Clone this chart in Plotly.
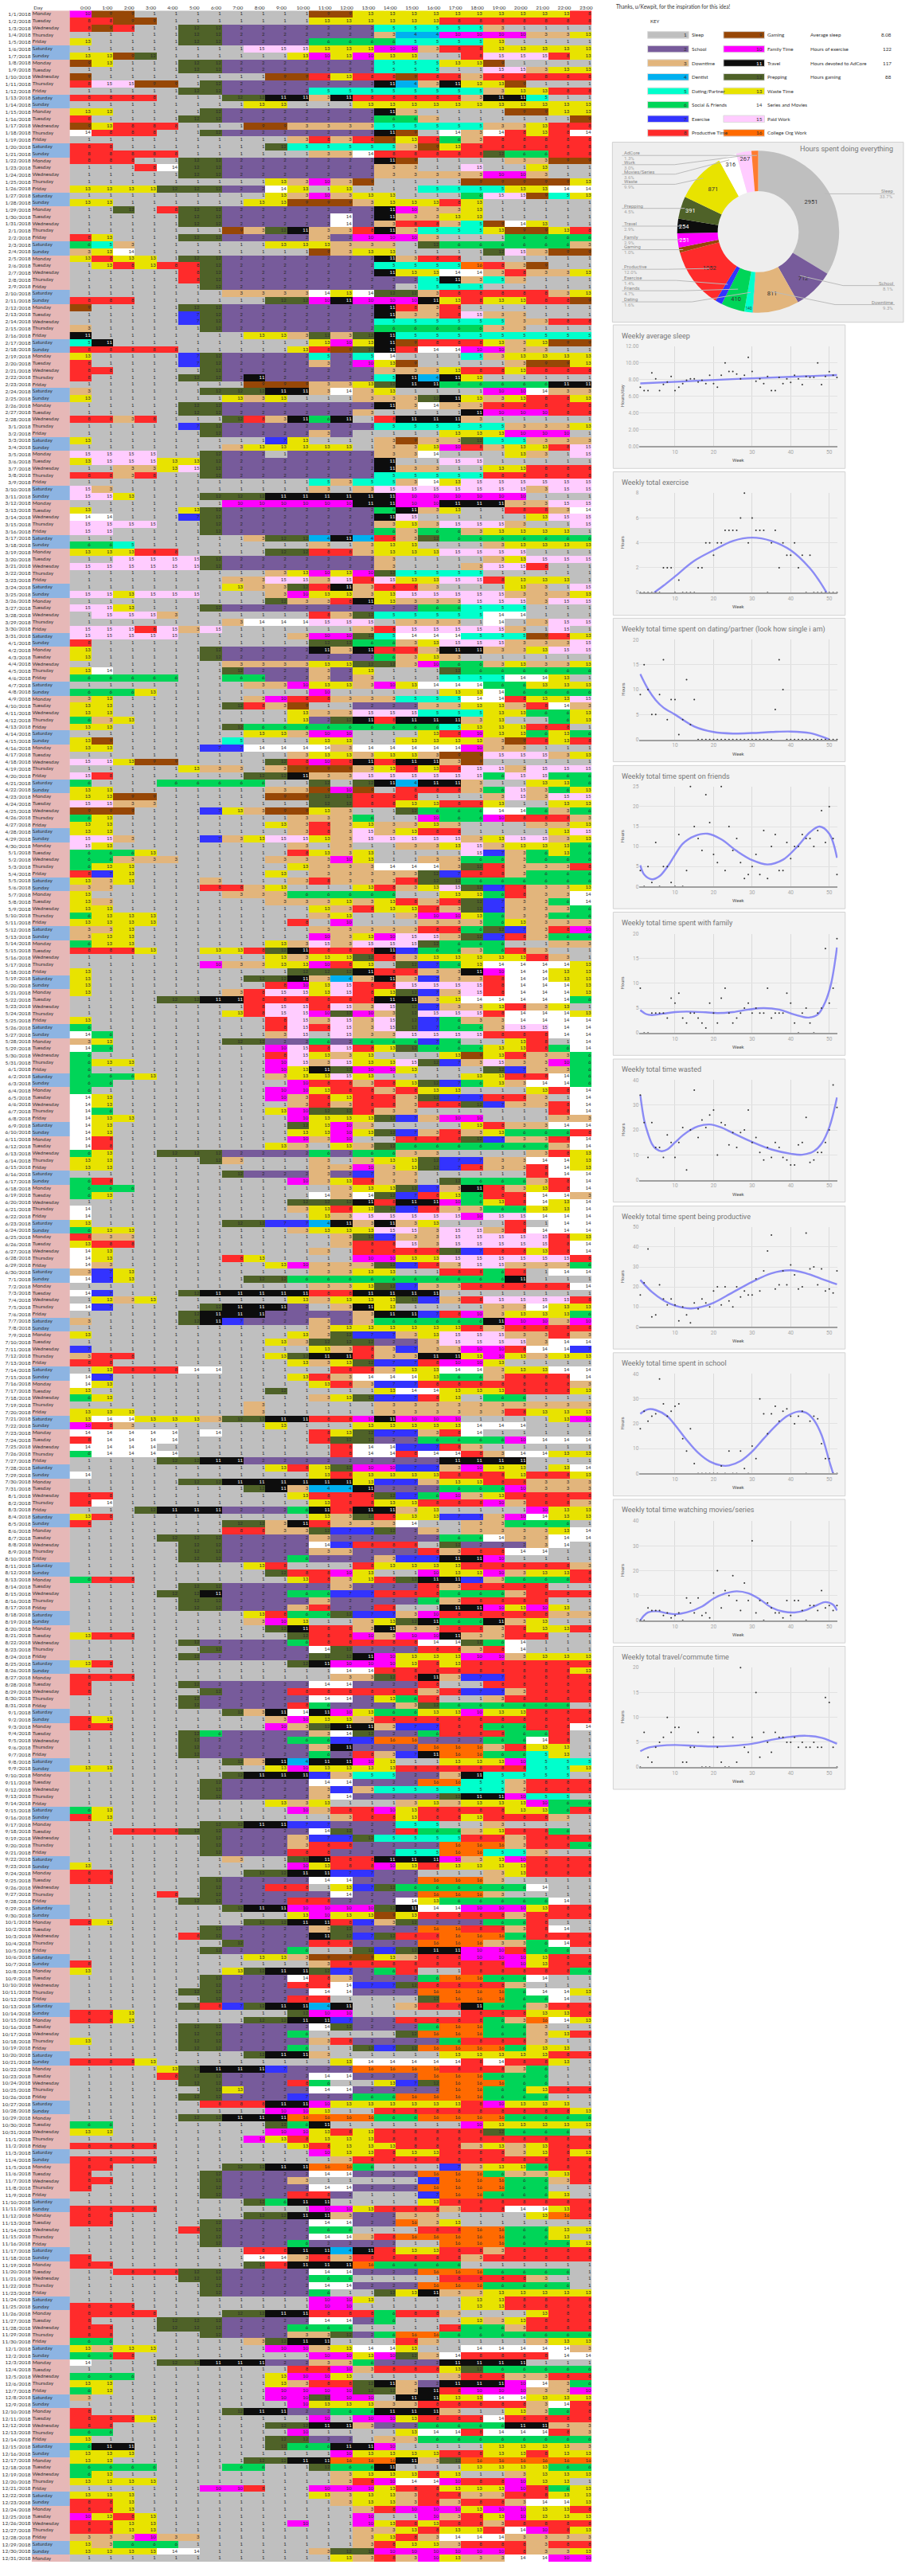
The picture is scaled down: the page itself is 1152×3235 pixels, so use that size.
import pandas as pd
import plotly.graph_objects as go

W, H = 1152, 3235
HOURS = [f"{h}:00" for h in range(24)]
DATES = pd.date_range("2018-01-01", "2018-12-31")
ACTIVITY_COLORS = ["#bfbfbf", "#775b9b", "#e2b57c", "#00b0f0", "#00ffcc", "#00d558", "#3333ff", "#ff2b2b",
                   "#974706", "#ff00ff", "#0d0d0d", "#4f6228", "#e8e300", "#ffffff", "#ffccff", "#ff6a00"]
# one character per hour: 1-9, a=10, b=11, c=12, d=13, e=14, f=15, g=16
DAY_ROWS = """a991111111199dddddddddd8
88991111111dddddd8888888
89811cc22222225555531111
11111cc2222222344aaaa33d
d1111cc222266665555d1111
11111111fffdddaa388ddddd
dd9c111111dadadd118fff8d
9d111cc2222222555dd91111
11111cc222222255511ff3dd
911111111998d88988388888
8ff991c2222222b43bdd9111
11111cc2222555555553dd88
8888111ccbb3b888883bb511
11111111dd111ddddddddddd
dd1111c2222222b3111199dd
81111cc22222226631111119
9d8881119933335555533d88
e88811c2222222b91e3e8d8e
111111111138389d86388888
881111111c5555539d888888
8888811111133e88888c6688
88811cc2222222b911113399
1118ecc22222223311f11d11
11111cc222222233333aa311
111111111d3a39111199999d
ddddccc22ed1d1115555ddee
111111111d3a3dd1116ff95d
dd111111dd9993ddd8d11111
11c18cc2222222ba33d11111
11111cc22222e2b33dd11111
11111cc22222e2388359ed11
111111193cb338b3555d99d8
8d111cc222232aaa31116666
653111111ddd3331c6666663
3de1111111193dd1111cf399
d8dd1cc2222222b388111111
1d8d88c22222225555g83911
111118c2222222bddee3833d
111118c2222222225b353111
111111c22222222155511111
11111113333edecc3888883d
888111111ccabaaabd8dd889
91111cc2222222b838111111
111117c2222222b338f33111
111117c22222225555553388
311111c22222226666633111
b1111111dd3c3cb555555555
5b111111111dadb9888d3d99
8888811111d89cb8eeaa3311
d11117c2222525e11153dddd
811117c222232ad91111399d
881111c2222222333d88d888
81111cc2b222225b4bd11111
1111111199933dcbb66666bb
311111cccbb3e3d1111aae33
d111111d3d111333cbd3d88d
11111cc2222222b3e3388888
11111cc22222231111baaa88
8838111c83b6b18bbb311111
111117c2222222555555333d
111111c2222321111dddaaa1
d111111117d1113933c55333
11111113ddddd133da83dd8f
ffff11c221222233e111d31f
dfffddc2222222b11ff11111
1133dfc2222222b3311dd888
883811c22222225555588888
1111111111153553edffffff
f3111111111313fffffff3ff
ffd111cccbbbbbbaaaaaa111
1111111aaaaaabbaabbb33ff
d1111dc22222226b3d11883e
ee1117c2222222bf11111dff
ffff11c22222223d3fff311f
ff1111c222222263663dddd1
111111113cc4b483c6666666
66511111111313dd1113dddd
ddd881111cc883dddffff111
11ffffc2222222311113dfff
ffffffc222222231113ff811
1111111113dadac555511111
111111133ff3f8fddff8ddd1
1111111d33c8b3883111d31f
ffdfff1113add3dfffff333d
111111111c338bd333fff3ff
ffd111c22222222266555111
1fff311111183c55555ee111
11111113eeefff13331e13ff
fff8f3f11111138fffff31f1
fffff111113aac5eee55598d
81111111111cc663dfff333f
d11111c2222b3b883bb33dff
d11111c222222263d3111111
11111113333ddcc3a663d33d
de11111c22232d111c666666
66666116622323111555eed1
1111111133add3adeee66ddd
666d1111111a11111dde6666
3d1111113a88333555ee8ddf
dd11111c8391122233dd38e3
dd11111111d33fff555dd66d
63d1111111d2cb8bbb3d116d
dd11111c6666666665ddd881
11111111dd3aa111d8add6d6
d9111115111dd11dddd398d8
dd111177eeee3eeeeea33111
11111111113dd3dd399fff3d
ffd991111c8a8b8bb3911111
11111d33139993d8d8ff3fff
f8111111ccb33ffffff6ff66
61116666611c1cb4bb311dd6
dd1111111339a9188836f36d
dd991111199cc8881113f3ff
ff331111111cc88dd88d11dd
9991117d399d311c666ee636
6d11111111333611a66a8883
dd1111111d383d33d311133d
dd11111111383f3d881111df
ff311173dffd3fffff3dff3d
fd111111113131133df3ddd6
666d1111118d3d1111f736d6
663331111333ad1133663666
6dd1111111d333eee3c83338
87d111111d133333c7883666
d3d1113111383338cc666666
331111883d111d83dfc7833d
d1111113336666611dd6833e
d31111111333d3d838c7336e
dd111111111d38dd83c73336
6ddd11111113d113aad63366
dddd11111181a1113336d333
33d1111111133333886c738a
3dd11111111a3daff3c78366
6dd111111d3f3fffc6661133
888d11dd8cb888b766368311
111111111d3ddc83ddddd831
111111a33dda8d1c76deeeed
d111111111cccb8833baeedd
d1111111ccb343b37338eedd
d111111118adf88ffff8eeed
d11111138ffdf8dc73f8eeed
1111ccbb888888bb3deeeee6
111111118ff8f3fc733d83d1
1111111d8ffaca3cfff8eeed
d111111118f3f3fc7633eeee
6111111118f8f3fc7663ffee
e611111113f1f33ffff888ee
3d11111cc22626667611d81e
e61111111af8f8dc666dd86e
6111111118fd3d111d9d8336
6dd111111af3fddfc73f33a6
611111111adbcaad111c7336
666d111113ddfd1111dd88e6
6611111111a8838dc76d3ee6
611111111aad8838dd111d8e
ed1111111a38d883c778831e
ed1111111138388388c7338e
e61111111dacc8331111118e
edd1111111adddc73aa11133
ed11111111cda31111d833ee
ed11111111ddadc7383d6668
e811111111a3a11888c7338e
e81111111d31d3c66666663e
6d11ccc2222626633111138d
dd1111c3111313ddc7733eed
dd11111111133a3dc78338ed
1111111c22232733111118ee
6811111111a3d8331c66638e
6661111111113ddc73b83d8e
6d111111111e3ec78d688ee3
1111111111cccb8bba6d8ede
e1111111113d8dc783366dde
e1111111111d3fffffaffeee
d111111cc774b3b3d11181ee
6dd11111113dddff3ff38eee
8331111111113c733fffff8d
d88111111111388f3fffff8e
ed111111111318888c788d8e
ed111118d1111aaddffffff8
e31111111da333c783ff3336
37d1111111133dd1188681ee
e7d11111cc6666666666b111
1111111111133dc73388888e
e7111cbbbbb88bbbb1111111
1d3d111111d3dddc738ffff8
e71111cbbb213bd111133edd
11111cbbb22223bb78a3ddd6
31111cb722232366666baa3a
111111111113dddddd838888
d111111111d3c773dfff3383
111111111d3ccc223ffff3ee
71111111111d383733aa8ee7
388111111dcbb833bbdad3dd
8811111111d3dc778aad1111
1d888ee11111883ddee3ddee
e711111111d83eeed663888e
ed111111111d837788888883
d11111111c1111deeddd888d
6d1111111113dc778d166111
111111113111113333333333
ddd111113111113333338ddd
deeddd3ccbb88abaaa1111da
a83111111d111dddddeee111
eeeee1e11118dc7738e11111
8eeee1111118cc226666aeee
eeee111111118ee778311111
6eeee11111118ee8ee83eedd
1111ccbb222222222bbbb111
111111111d8dcaa773add1de
e1111111111d8dddd888d88d
11111ccbbbbbbd773dd88333
11111111cb344b222666a333
8811111111d888c76a3d8888
8e111111111d88dd888a3883
111cbbb2226b8bb3d1111add
d8111111111d3c8dd773aedd
8111111cc3b8333e11336661
11111118833c77c2313333de
1111ccc222232222266e33ee
11111cc2222e78881c2223e1
11111cc2222332228388ee11
11111cc2226222377bba1111
11111111d81118dddd888883
111111111c88ad11adda3dd8
6881111111d83d8cbb736668
11111cc22222322283888811
1111ccb22266778886663888
11111cc22223222263888811
11111cc2223822811bbadad1
11111111d866c773a8888833
111111113ad113dcb66b3d11
111111111cb883b338838dd8
d881111111c88a3aab338811
11111c2222688888eec6e111
111111c2222ec2228838e111
11111c22222ccbadddaa3ddd
d811111111cbaaad8d888888
111111111111ee888888888d
88811111111133c8b3778888
81111c22222ee22281188888
811111c22288888838773888
11111c22222ee2d681138888
11111c2222862223c6666661
1111111c3bebad66ddadd888
8d11111113add38888888888
881111111a3cbb377886688e
11111c622223ec2268886681
11111c22226677gg22266e81
11111c222223b222ggg38dd1
11111c2222262837bgg665d1
1111111c3b4bbad11ddda555
dd1111111dadddd88888855d
1111111cbbb7355223b55551
111111c2222ee222gg553888
111111c22223735555553888
111111c22223e2222cbba551
111111111d3d1113d3ddda66
6d11111111a388ad8888dd68
8d1111111111388d88d88831
111111ccbb77222551131111
11888cc2222ec228663d8861
111111c222377c5555883888
111111c2223882222ggg3886
111111c2228822255gg55311
1111111311cb88bbba3da888
d111111111ad88ad8dddd888
88111111ccbb77221113d888
881111c2222ee222ggg31111
111111c22881d7c666666e11
111181c22222e222ggg31111
11111cc22288222ed66666e1
1111111cbbaaaacbeeaaad88
1111111111dadd9d88883888
8d111111ccbb873c22266811
111111c22223c222gg8838e1
111118c2222bc7c88ggg6888
1111111c22288222ggg336e8
111111c222611c7cbbaa8661
11111111dd3999d388aaad88
81111111111388888888ad88
d111111dcbbc726811888886
111111c222e832226gg66e11
111111c22288e77c88883111
11111cc2222ee222gggg6eed
111111c222881111cggg66e1
11111c87cbb4b11388b66388
88d1111111caa11111888dd8
88d11111ccbb722888863ged
11111cc2222ec2226gg66311
11111cc22261111cggg663d8
d1111cc22223822226888311
11111cc222611c7cgggg6dd1
11111111cbb311111ddddd88
888d11111111deeeee8e88d1
1111dcbbb7222gggg8883611
11118cc2222ee222ggg66611
11111cc2228611d7cggg6611
111111cd222ee2222gg66d88
11111cc22272266gggg66611
111111888bbadddddd8addd1
111111111aad11888888888d
11111ccbbbgggg66gggg6666
661111111c6b111111addddd
dd1111111aad8d88888c6661
11111111ad8ddd8888888888
8888111111d8ddd8883d3d88
11111111111add8dd8883d8d
888811111111388888888888
8811111ccbbgg611173dd688
811111c2222ee222ggg633d8
881111c2223111117ggg6638
811111c2222ee222gggg6611
111111c2228821117gg666d1
11111111c6bb1111d8888888
88881111111aad888388eed8
88111111ccbb322331111dg8
881111c2222ee22g3d111111
111118c22226611188gg66dd
111111c2222ee38ggggg66d1
111111c2226222211ggg666d
1111111188bb4b8dd8838888
81111111ee38388888388888
88111111c8bbbg6666111111
11888cc2222ee222ggg66661
11111cc22226611118888311
111111c2222ee222ggg66661
111111c2222611cdb33ddddd
11111111111aad1111dd8888
88811111111aa11111dd8888
8888111ccbb8886883111d88
8111ccc2222ee26111d3d888
8811ccc22266611118663888
881111c22233c26gg6666666
661111113cbb1118311113dd
d3dd11111aa3deed11eeeee3
66811111111aadac3e8888ee
e111ccbbb22336222bbbb111
111111111188a3888dc66666
666111111daad11113883388
dd1111111d388cb32bbbae36
6d1111111aaaacc3b8aaa33a
311111111aacaa1bbddeeddd
1111111111addd33888883e8
8111111cbb2266bbb311d368
888d1111111a1aad888e8888
881111111ccbb3226666bb33
6611111111a1111dee8eee83
d11111111cc2213366666666
6bb111111c66bba1111dddd3
ddd111111111adddd88dd8dd
dd111111ccbbgggb3cgggggg
66661116611c66b111dddd66
6d11111111113ddd8d113ddd
dddd1111111138aeea88add1
111111aa811aaad88ddda86d
ddd11111111d3dd3883388dd
88d1111111113dd383883eed
88d111111111138aaadaadd8
ad8d111111111a11a38daddd
88dd111111a11ad8d8838888
88dd11111111133d8dd8ea8d
333a3311111113d83eee3333
d36661111111138dd3888388
ddddee111113ccaaaaaa833d
111111111111d383ad33eeaa""".split("\n")

KEY_COL1 = [(1, "Sleep"), (2, "School"), (3, "Downtime"), (4, "Dentist"), (5, "Dating/Partner"),
            (6, "Social & Friends"), (7, "Exercise"), (8, "Productive Time")]
KEY_COL2 = [(9, "Gaming"), (10, "Family Time"), (11, "Travel"), (12, "Prepping"), (13, "Waste Time"),
            (14, "Series and Movies"), (15, "Paid Work"), (16, "College Org Work")]
STAT_LABELS = ["Average sleep", "Hours of exercise", "Hours devoted to AdCore", "Hours gaming"]
STAT_VALUES = ["8.08", "122", "117", "88"]

PIE_LABELS = ["Sleep", "School", "Downtime", "Dentist", "Dating", "Friends", "Exercise", "Productive",
              "Gaming", "Family", "Travel", "Prepping", "Waste", "Movies/Series", "Work", "AdCore"]
PIE_VALUES = [2951, 712, 811, 7, 140, 410, 122, 1052, 88, 251, 254, 391, 871, 316, 267, 117]
PIE_COLORS = ["#bfbfbf", "#775b9b", "#e2b57c", "#00b0f0", "#00ffcc", "#00d558", "#3333ff", "#ff2b2b",
              "#974706", "#ff00ff", "#0d0d0d", "#4f6228", "#e8e300", "#ffffff", "#ffccff", "#ff7b30"]

WEEKS = list(range(1, 53))
SLEEP = [7.1, 6.69, 6.69, 8.82, 8.09, 6.69, 7.42, 7.7, 8.38, 6.69, 7.1, 7.52, 7.93, 8.09, 8.09, 7.7, 7.93, 7.52, 8.53,
         7.52, 7.1, 8.53, 10.0, 8.98, 8.98, 8.66, 8.09, 8.53, 10.67, 8.98, 7.8, 8.09, 7.52, 8.38, 6.69, 6.69, 8.25,
         7.52, 8.09, 7.67, 8.53, 8.09, 7.4, 8.38, 8.28, 8.28, 10.0, 7.4, 8.38, 8.95, 8.53, 8.25]
EXERCISE = [0, 0, 0, 0, 0, 0, 2, 2, 2, 0, 1, 0, 0, 0, 0, 2, 2, 4, 4, 3, 4, 4, 5, 5, 5, 5, 6, 8, 4, 6, 5, 5, 5, 0, 4, 5,
            2, 4, 3, 3, 4, 2, 3, 0, 3, 0, 0, 0, 0, 0, 0, 0]
DATING = [9, 15, 10, 5, 5, 9, 16, 4, 8, 8, 1, 4, 12, 3, 8, 0, 0, 0, 0, 0, 0, 0, 0, 0, 0, 0, 0, 0, 0, 0, 0, 0, 0, 0, 0,
          6, 16, 10, 0, 0, 0, 0, 0, 0, 0, 0, 0, 0, 0, 0, 0, 0]
FRIENDS = [4, 0, 5, 1, 11, 0, 5, 5, 1, 0, 13, 0, 4, 25, 15, 12, 9, 23, 16, 8, 6, 25, 4, 15, 9, 12, 6, 2, 3, 5, 8, 3, 14,
           2, 10, 13, 4, 4, 11, 7, 10, 10, 13, 12, 12, 10, 14, 19, 11, 20, 12, 3]
FAMILY = [9, 0, 0, 4, 4, 4, 4, 3, 7, 6, 8, 3, 2, 4, 4, 3, 2, 1, 6, 4, 2, 7, 9, 4, 2, 3, 4, 5, 6, 4, 5, 4, 4, 9, 3, 4, 4,
          4, 8, 6, 2, 0, 4, 5, 2, 0, 4, 5, 17, 6, 9, 19]
WASTED = [34, 23, 9, 23, 13, 13, 9, 18, 15, 9, 15, 21, 4, 20, 36, 17, 24, 21, 26, 28, 10, 23, 22, 14, 19, 13, 19, 20, 28,
          15, 17, 11, 8, 13, 9, 15, 13, 9, 8, 6, 6, 14, 15, 25, 7, 8, 11, 11, 15, 20, 38, 29]
PRODUCTIVE = [16, 22, 39, 5, 6, 21, 14, 11, 14, 11, 3, 10, 6, 2, 12, 9, 14, 12, 10, 18, 20, 11, 20, 13, 10, 20, 15, 18,
              16, 16, 24, 18, 28, 38, 46, 19, 21, 28, 21, 31, 26, 19, 20, 47, 29, 30, 21, 29, 18, 19, 17, 28]
SCHOOL = [18, 25, 21, 23, 24, 38, 28, 23, 25, 27, 28, 14, 9, 18, 4, 0, 0, 0, 0, 0, 0, 3, 0, 9, 0, 0, 9, 2, 0, 11, 6, 30,
          24, 16, 24, 27, 21, 25, 26, 23, 20, 23, 25, 0, 21, 23, 22, 12, 6, 6, 0, 0]
MOVIES = [0, 0, 5, 4, 4, 4, 2, 3, 1, 2, 3, 0, 9, 7, 3, 9, 2, 3, 1, 11, 20, 5, 12, 10, 18, 8, 4, 15, 8, 32, 3, 8, 0, 7, 5,
          3, 3, 1, 8, 2, 8, 8, 4, 0, 6, 6, 4, 12, 5, 6, 4, 6]
TRAVEL = [0, 7, 2, 1, 4, 5, 6, 10, 7, 8, 8, 1, 1, 4, 4, 7, 0, 0, 0, 6, 4, 1, 0, 0, 6, 1, 20, 4, 3, 6, 15, 2, 7, 5, 3, 7,
          6, 6, 5, 5, 6, 4, 5, 4, 4, 5, 4, 4, 14, 13, 4, 0]

SLEEP_TREND = ([1, 26, 52], [7.55, 8.08, 8.55])
EXERCISE_TREND = ([4.6, 7, 10, 15, 20, 25, 30, 35, 40, 45, 47.5, 49.3],
                  [0, 0.55, 1.3, 2.55, 3.4, 4.15, 4.42, 4.15, 3.4, 1.95, 0.9, 0])
DATING_TREND = ([1, 3, 5, 7, 10, 15, 20, 25, 30, 35, 40, 45, 48, 50],
                [13.1, 10.1, 7.9, 6.4, 5, 2.6, 1.5, 1.2, 1.3, 1.5, 1.6, 1.3, 0.6, 0])
FRIENDS_TREND = ([1, 2, 4, 6, 8, 10, 12, 15, 18.5, 22, 26, 30, 34, 38, 42, 45, 47.5, 50, 52],
                 [5.3, 3, 1.8, 2.6, 4.9, 7.9, 10.7, 12.6, 13.2, 11.8, 8.9, 6.6, 5.5, 6.7, 10.3, 13.6, 15, 13.2, 7.2])
FAMILY_TREND = ([1, 2.5, 4, 7, 10, 13, 18, 21, 25, 29, 33, 37, 41, 44.5, 47, 49, 50.5, 52],
                [4.6, 3.8, 3.6, 3.9, 4.2, 4.3, 4.15, 4, 4.2, 4.7, 5, 4.7, 3.7, 3.1, 3.7, 6.3, 10, 17.2])
WASTED_TREND = ([1, 2, 3, 4, 5, 6.5, 8, 10, 12, 14, 16, 19, 22, 25, 30, 35, 40, 43, 46, 48, 50, 52],
                [34, 24, 18.5, 14.5, 12.5, 11.5, 12.2, 15, 17.8, 20, 21.5, 22.2, 21, 18.8, 15.2, 12.2, 10.5, 10.1,
                 11.5, 14.5, 21, 33])
PRODUCTIVE_TREND = ([1, 4, 7, 10, 14, 17, 20, 25, 30, 35, 40, 44, 48, 52],
                    [23.5, 17.5, 13.3, 10.6, 9.2, 10, 12, 17.3, 22.5, 26.8, 28.3, 26.8, 24, 21.3])
SCHOOL_TREND = ([1, 3, 5, 8, 10, 13, 16, 19, 22, 24, 27, 30, 33, 36, 39, 42, 44, 46, 48, 50, 51],
                [24, 25.8, 25.5, 23, 19.5, 13.5, 8.3, 4.8, 3.2, 3.2, 5, 8.8, 14, 19, 23, 24.9, 24.4, 21.5, 15.5, 5, 0])
MOVIES_TREND = ([1, 2, 3, 5, 8, 10, 13, 17, 20, 23, 26, 29, 32, 35, 38, 41, 44, 47, 49, 51, 52],
                [0, 2, 3.2, 3.7, 2.9, 2.5, 3.2, 5.6, 8.8, 10.8, 11.7, 10.9, 8.5, 5.2, 3.6, 3.2, 4.2, 6.3, 7.4, 6.3, 4])
TRAVEL_TREND = ([1, 3, 6, 10, 15, 20, 25, 30, 35, 40, 44, 48, 52],
                [3.2, 3.9, 4.3, 4.45, 4.3, 4.15, 4.3, 4.7, 5.5, 6.1, 6.3, 5.9, 4.7])


def px(x):
    return x / W


def py(y):
    return 1 - y / H


CHAR = {c: i + 1 for i, c in enumerate("123456789abcdefg")}
GRID_FONT = "Lato"
UI_FONT = "Roboto"
z = [[CHAR[c] for c in row] for row in DAY_ROWS]
ys = [i + 0.5 for i in range(365)]
xs = [h + 0.5 for h in range(24)]

GX0, GX1, CELL = 87.3, 744.0, 27.37
DAYW = 47.6 / CELL
steps = []
for i, c in enumerate(ACTIVITY_COLORS):
    steps += [[i / 16, c], [(i + 1) / 16, c]]

fig = go.Figure()
fig.add_trace(go.Heatmap(z=z, x=xs, y=ys, zmin=0.5, zmax=16.5, colorscale=steps, showscale=False, hoverinfo="skip"))
fig.add_trace(go.Heatmap(z=[[1 if d.dayofweek >= 5 else 0] for d in DATES], x0=-DAYW / 2, dx=DAYW, y=ys,
                         zmin=0, zmax=1, showscale=False, hoverinfo="skip",
                         colorscale=[[0, "#e6b8b7"], [0.5, "#e6b8b7"], [0.5, "#8db4e2"], [1, "#8db4e2"]]))
tx, ty, tt, tc = [], [], [], []
for i, row in enumerate(z):
    for h, v in enumerate(row):
        tx.append(h + 0.97)
        ty.append(i + 0.5)
        tt.append(str(v))
        tc.append("#ffffff" if v == 11 else "#2a2a2a")
fig.add_trace(go.Scatter(x=tx, y=ty, text=tt, mode="text", textposition="middle left", hoverinfo="skip",
                         textfont=dict(family=GRID_FONT, size=6, color=tc)))
fig.add_trace(go.Scatter(x=[-DAYW + 0.04] * 365, y=ys, text=[d.day_name() for d in DATES], mode="text",
                         textposition="middle right", hoverinfo="skip",
                         textfont=dict(family=GRID_FONT, size=6.5, color="#333333")))

layout = dict(
    width=W, height=H, margin=dict(l=0, r=0, t=0, b=0), autosize=False, showlegend=False,
    paper_bgcolor="#ffffff", plot_bgcolor="rgba(0,0,0,0)", font=dict(family=GRID_FONT),
    xaxis=dict(domain=[px(GX0 - 47.6), px(GX1)], range=[-DAYW, 24], side="top", showgrid=False, zeroline=False,
               tickmode="array", tickvals=[-DAYW + 0.3] + [h + 0.74 for h in range(24)], ticktext=["Day"] + HOURS,
               ticklen=0, tickfont=dict(family=GRID_FONT, size=6.5, color="#333333"), ticklabelstandoff=-1),
    yaxis=dict(domain=[py(9.3 + 365 * 8.8), py(9.3)], range=[365, 0], showgrid=False, zeroline=False,
               tickmode="array", tickvals=ys, ticktext=[f"{d.month}/{d.day}/2018" for d in DATES], ticklen=0,
               tickfont=dict(family=GRID_FONT, size=6.5, color="#333333")),
)

shapes, anns = [], []


def note(x, y, text, size=6.5, color="#333333", anchor="left", family=GRID_FONT, angle=0):
    anns.append(dict(x=px(x), y=py(y), xref="paper", yref="paper", text=text, showarrow=False, xanchor=anchor,
                     yanchor="middle", textangle=angle, font=dict(family=family, size=size, color=color)))


def rect(x0, y0, x1, y1, fill, line, layer="below", width=1):
    shapes.append(dict(type="rect", xref="paper", yref="paper", x0=px(x0), x1=px(x1), y0=py(y0), y1=py(y1),
                       fillcolor=fill, line=dict(color=line, width=width), layer=layer))


note(772.3, 5, "Thanks, u/Kewpit, for the inspiration for this idea!", size=6.6)
note(816, 22.7, "KEY", size=6)
KEY_Y = [40, 57.7, 75.3, 93, 110.7, 128, 145.7, 163.3]
for items, sx0, sx1 in ((KEY_COL1, 814.3, 866), (KEY_COL2, 909.7, 961.3)):
    for (num, label), y in zip(items, KEY_Y):
        if num != 14:
            rect(sx0, y - 4.3, sx1, y + 4.3, ACTIVITY_COLORS[num - 1], "#dddddd")
        note(sx1 - 0.5, y, str(num), anchor="right", color="#ffffff" if num == 11 else "#333333", size=6.3)
        note(sx1 + 1.3, y, label, size=6.3)
for lab, val, y in zip(STAT_LABELS, STAT_VALUES, KEY_Y):
    note(1017, y, lab, size=6.3)
    note(1123, y, val, size=6.3, anchor="right")

# pie panel
rect(770, 175, 1136, 401.7, "#eeeeee", "#cfcfcf")
PCX, PCY, PR = 953.3, 287.7, 102.0
fig.add_trace(go.Pie(labels=PIE_LABELS, values=PIE_VALUES, sort=False, direction="clockwise", rotation=0, hole=0.5,
                     marker=dict(colors=PIE_COLORS, line=dict(width=0)),
                     text=[str(v) if v > 125 else "" for v in PIE_VALUES], textinfo="text", textposition="inside",
                     insidetextorientation="horizontal", hoverinfo="skip",
                     insidetextfont=dict(family=UI_FONT, size=7.5,
                                         color=["#333333" if c not in ("#4f6228", "#0d0d0d", "#ff00ff") else "#ffffff"
                                                for c in PIE_COLORS]),
                     domain=dict(x=[px(PCX - PR), px(PCX + PR)], y=[py(PCY + PR), py(PCY - PR)])))
note(1124.7, 183.7, "Hours spent doing everything", size=9, color="#777777", anchor="right", family=UI_FONT)
PIE_NOTES = [("AdCore", "1.3%", 187.7, [(782, 191.7), (951.7, 191.7)]),
             ("Work", "3.0%", 200, [(782, 203.3), (848, 203.3), (936.7, 191.7)]),
             ("Movies/Series", "3.6%", 212, [(782, 215.3), (849, 215.3), (917, 197.3)]),
             ("Waste", "9.9%", 224.3, [(782, 228), (849, 228), (884, 220.3)]),
             ("Prepping", "4.5%", 255.3, [(782, 258.3), (861, 258.3)]),
             ("Travel", "2.9%", 277, [(782, 280.7), (856.7, 280.7)]),
             ("Family", "2.9%", 294.3, [(782, 297.7), (856.7, 297.7)]),
             ("Gaming", "1.0%", 306.3, [(782, 310.3), (859, 310.3)]),
             ("Productive", "12.0%", 331, [(782, 335), (840, 335), (892, 334)]),
             ("Exercise", "1.4%", 345, [(782, 349), (850, 349), (915, 354)]),
             ("Friends", "4.7%", 358, [(782, 362), (860, 362), (928, 360)]),
             ("Dating", "1.6%", 372, [(782, 376), (870, 376), (944, 364)])]
for name, pct, y, pts in PIE_NOTES:
    note(782.3, y, name, size=6, color="#888888", family=UI_FONT)
    note(782.3, y + 7, pct, size=6, color="#a5a5a5", family=UI_FONT)
    path = "M " + " L ".join(f"{px(a)} {py(b)}" for a, b in pts)
    shapes.append(dict(type="path", path=path, xref="paper", yref="paper", line=dict(color="#bbbbbb", width=1),
                       layer="above"))
for name, pct, y, pts in [("Sleep", "33.7%", 236.3, [(1125, 240), (1037, 240)]),
                          ("School", "8.1%", 352, [(1125, 355.5), (1060, 355.5), (1006, 343)]),
                          ("Downtime", "9.3%", 376, [(1125, 379.5), (1050, 379.5), (970, 363)])]:
    note(1124.7, y, name, size=6, color="#888888", family=UI_FONT, anchor="right")
    note(1124.7, y + 7, pct, size=6, color="#a5a5a5", family=UI_FONT, anchor="right")
    path = "M " + " L ".join(f"{px(a)} {py(b)}" for a, b in pts)
    shapes.append(dict(type="path", path=path, xref="paper", yref="paper", line=dict(color="#bbbbbb", width=1),
                       layer="above"))

# weekly panels: title, y-label, values, trend, y-top, dtick, y-format, panel top/bottom, plot top/bottom, title y
PANELS = [
    ("Weekly average sleep", "Hours/day", SLEEP, SLEEP_TREND, 12, 2, ".2f", 405, 585.7, 432, 557.7, 419),
    ("Weekly total exercise", "Hours", EXERCISE, EXERCISE_TREND, 8, 2, "d", 590, 770.7, 616.7, 742, 603),
    ("Weekly total time spent on dating/partner (look how single i am)", "Hours", DATING, DATING_TREND, 20, 5, "d",
     774.3, 955, 801.3, 927, 788),
    ("Weekly total time spent on friends", "Hours", FRIENDS, FRIENDS_TREND, 25, 5, "d", 959.7, 1140, 986.3, 1112, 973),
    ("Weekly total time spent with family", "Hours", FAMILY, FAMILY_TREND, 20, 5, "d", 1144.3, 1324.6, 1171.4, 1296.4,
     1157.9),
    ("Weekly total time wasted", "Hours", WASTED, WASTED_TREND, 40, 10, "d", 1329.3, 1509.3, 1355.7, 1481.4, 1342.5),
    ("Weekly total time spent being productive", "Hours", PRODUCTIVE, PRODUCTIVE_TREND, 50, 10, "d", 1514.3, 1694.3,
     1540.7, 1666.4, 1527.5),
    ("Weekly total time spent in school", "Hours", SCHOOL, SCHOOL_TREND, 40, 10, "d", 1699, 1879.3, 1725.7, 1851, 1712),
    ("Weekly total time watching movies/series", "Hours", MOVIES, MOVIES_TREND, 40, 10, "d", 1883.6, 2064.3, 1910.7,
     2036, 1897),
    ("Weekly total travel/commute time", "Hours", TRAVEL, TRAVEL_TREND, 20, 5, "d", 2068.6, 2248.6, 2095.4, 2220.7,
     2081.8),
]
XL, XR = 804.0, 1053.3
for n, (title, ylab, vals, trend, ytop, dtick, fmt, ptop, pbot, atop, abot, ty_) in enumerate(PANELS):
    ax = n + 2
    rect(771, ptop, 1062.7, pbot, "#f3f3f3", "#d2d2d2")
    layout[f"xaxis{ax}"] = dict(domain=[px(XL), px(XR)], range=[0.78, 52.19], anchor=f"y{ax}", tickvals=[10, 20, 30, 40, 50],
                                showgrid=True, gridcolor="#dadada", gridwidth=1, zeroline=False, showline=True,
                                linecolor="#9f9f9f", linewidth=1.5, ticklen=0,
                                tickfont=dict(family=UI_FONT, size=6.5, color="#a8a8a8"))
    layout[f"yaxis{ax}"] = dict(domain=[py(abot), py(atop)], range=[0, ytop], anchor=f"x{ax}", dtick=dtick,
                                tickformat=fmt, showgrid=True, gridcolor="#e2e2e2", gridwidth=1, zeroline=False,
                                ticklen=0, tickfont=dict(family=UI_FONT, size=6.5, color="#a8a8a8"))
    fig.add_trace(go.Scatter(x=trend[0], y=trend[1], mode="lines", line=dict(color="rgba(112,112,245,0.8)", width=2.4,
                                                                             shape="spline", smoothing=1.0),
                             xaxis=f"x{ax}", yaxis=f"y{ax}", hoverinfo="skip"))
    fig.add_trace(go.Scatter(x=WEEKS, y=vals, mode="markers", marker=dict(color="#333333", size=2),
                             xaxis=f"x{ax}", yaxis=f"y{ax}", hoverinfo="skip", cliponaxis=False))
    note(779.3, ty_, title, size=9, color="#757575", family=UI_FONT)
    note(928.7, abot + 17.5, "Week", size=6, color="#555555", family=UI_FONT, anchor="center")
    note(782.3, (atop + abot) / 2, ylab, size=6, color="#555555", family=UI_FONT, anchor="center", angle=-90)

layout["shapes"] = shapes
layout["annotations"] = anns
fig.update_layout(**layout)
fig.write_html("out.html", config=dict(displayModeBar=False, responsive=False),
               post_script="document.body.style.margin='0';")
